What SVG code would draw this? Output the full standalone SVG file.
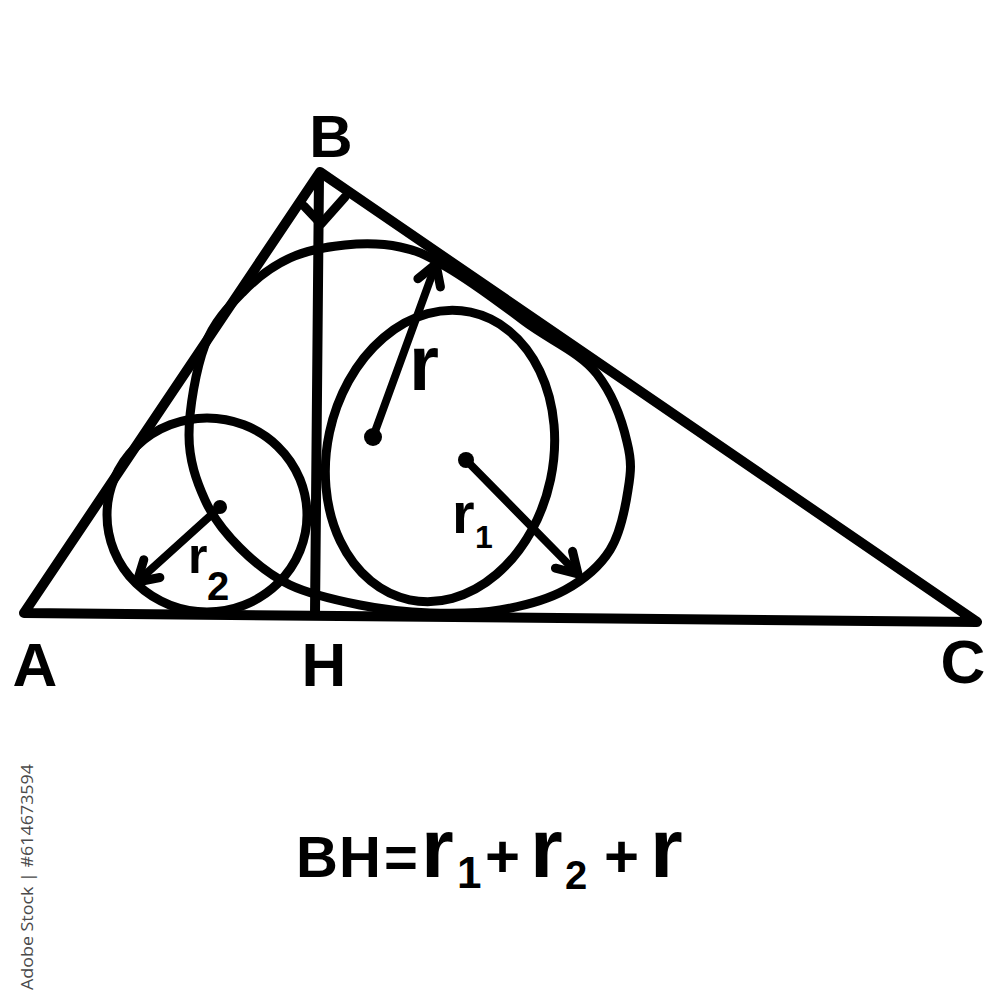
<svg xmlns="http://www.w3.org/2000/svg" width="1000" height="1000" viewBox="0 0 1000 1000">
  <defs>
    <marker id="arrowhead" markerUnits="userSpaceOnUse" markerWidth="40" markerHeight="40" viewBox="-30 -20 40 40" refX="0" refY="0" orient="auto">
      <path d="M-20,-12 L0,0 L-20,12" fill="none" stroke="#000" stroke-width="9" stroke-linecap="round" stroke-linejoin="round"/>
    </marker>
  </defs>
  <style>
    .ln { fill: none; stroke: #000; stroke-linecap: round; stroke-linejoin: round; }
    .tri { stroke-width: 10; }
    .circ { stroke-width: 9; }
    .arr { stroke-width: 8; }
    .dot { fill: #000; }
    .lbl { font-family: "Liberation Sans", Arial, sans-serif; font-weight: bold; fill: #000; }
    .wm { font-family: "Open Sans", "DejaVu Sans", sans-serif; fill: #4a4a4a; font-size: 16px; }
  </style>
  <rect width="1000" height="1000" fill="#fff"/>

  <g id="triangle">
    <polygon class="ln tri" points="24,613 320,172 977,622"/>
  </g>
  <g id="altitude-BH">
    <line class="ln tri" x1="319" y1="176" x2="315" y2="614"/>
    <polyline class="ln circ" points="304,206 321,224 345,197"/>
  </g>

  <g id="incircle-r">
    <path class="ln circ" d="M189,435 C189,409.2 196,368.8 205,345 C214,321.2 228.8,306.5 243,292 C257.2,277.5 273,265.8 290,258 C307,250.2 326.7,246.8 345,245 C363.3,243.2 383.3,243.5 400,247 C416.7,250.5 423.8,253.8 445,266 C466.2,278.2 499,302 524,321 C549,340 580,352 597,374 C614,396 622,420 627,442 C632,462 631,472 628,490 C625.2,508.3 620.5,533.3 610,550 C599.5,566.7 583.3,580 565,590 C546.7,600 522.5,606.2 500,610 C477.5,613.8 453.3,613.8 430,613 C406.7,612.2 383.3,609.7 360,605 C336.7,600.3 310,594.5 290,585 C270,575.5 254.2,562.2 240,548 C225.8,533.8 213.5,518.8 205,500 C196.5,481.2 189,460.8 189,435 Z"/>
  </g>
  <g id="circle-r1">
    <ellipse class="ln circ" cx="440" cy="456" rx="113" ry="147" transform="rotate(12 440 456)"/>
  </g>
  <g id="circle-r2">
    <ellipse class="ln circ" cx="207" cy="515" rx="100" ry="97"/>
  </g>

  <g id="connectors">
    <line class="ln arr" x1="373" y1="437" x2="436" y2="264" marker-end="url(#arrowhead)"/>
    <circle class="dot" cx="373" cy="437" r="9"/>
    <line class="ln arr" x1="466" y1="460" x2="578" y2="574" marker-end="url(#arrowhead)"/>
    <circle class="dot" cx="466" cy="460" r="8"/>
    <line class="ln arr" x1="220" y1="507" x2="137" y2="582" marker-end="url(#arrowhead)"/>
    <circle class="dot" cx="220" cy="507" r="7"/>
  </g>

  <g id="labels">
    <text class="lbl" x="331" y="157" font-size="60" text-anchor="middle">B</text>
    <text class="lbl" x="35" y="686" font-size="62" text-anchor="middle">A</text>
    <text class="lbl" x="324" y="686" font-size="62" text-anchor="middle">H</text>
    <text class="lbl" x="963" y="683" font-size="62" text-anchor="middle">C</text>
    <text class="lbl" x="409" y="390" font-size="77">r</text>
    <text class="lbl" x="452" y="533" font-size="58">r<tspan x="475" y="548" font-size="32">1</tspan></text>
    <text class="lbl" x="188" y="573" font-size="50">r<tspan x="207" y="600" font-size="40">2</tspan></text>
  </g>

  <g id="formula">
    <text class="lbl" y="877" font-size="58"><tspan x="296">B</tspan><tspan x="339">H</tspan><tspan x="384">=</tspan><tspan x="421" font-size="84">r</tspan><tspan x="457" y="888" font-size="44">1</tspan><tspan x="485" y="877" font-size="60">+</tspan><tspan x="530" font-size="84">r</tspan><tspan x="565" y="889" font-size="40">2</tspan><tspan x="604" y="877" font-size="60">+</tspan><tspan x="650" font-size="84">r</tspan></text>
  </g>

  <text class="wm" transform="translate(33,990) rotate(-90)" textLength="226" lengthAdjust="spacingAndGlyphs">Adobe Stock | #614673594</text>
</svg>
